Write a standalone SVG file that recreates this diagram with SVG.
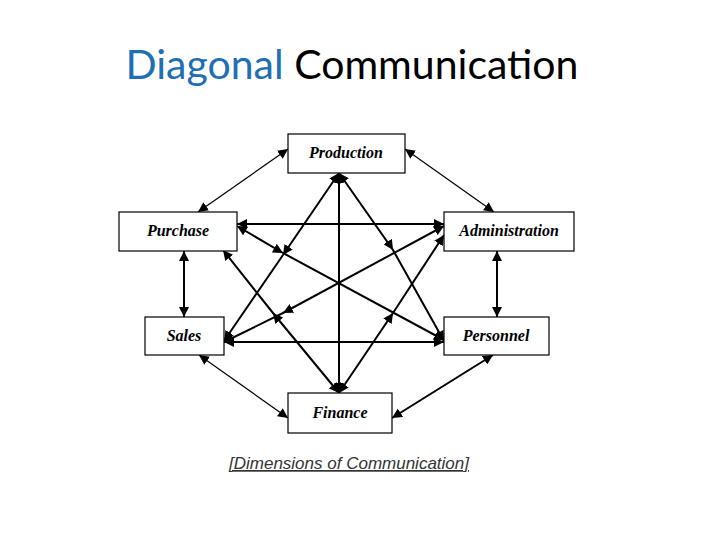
<svg xmlns="http://www.w3.org/2000/svg" width="720" height="540" viewBox="0 0 720 540">
<style>
.box{fill:#fff;stroke:#000;stroke-width:1.2}
.lbl{font-family:"Liberation Serif",serif;font-style:italic;font-weight:bold;font-size:16px;text-anchor:middle}
.c{stroke:#000;fill:none}
.thin{stroke-width:1.2}
.thick{stroke-width:2}
</style>
<defs>
<marker id="m" viewBox="0 0 10 10" refX="10" refY="5" markerWidth="10" markerHeight="10" orient="auto" markerUnits="userSpaceOnUse"><path d="M0,0L10,5L0,10z"/></marker>
<marker id="s" viewBox="0 0 10 10" refX="10" refY="5" markerWidth="10" markerHeight="10" orient="auto-start-reverse" markerUnits="userSpaceOnUse"><path d="M0,0L10,5L0,10z"/></marker>
</defs>
<text x="352" y="79" font-family="Lato,'Open Sans',sans-serif" font-size="41" text-anchor="middle"><tspan fill="#1F6FB5">Diagonal</tspan> Communication</text>
<g id="connectors">
<g marker-start="url(#s)" marker-end="url(#m)">
<line class="c thin" x1="288" y1="149" x2="198" y2="212"/>
<line class="c thin" x1="405" y1="149" x2="494" y2="212"/>
<line class="c thick" x1="184" y1="251" x2="184" y2="317"/>
<line class="c thick" x1="497" y1="251" x2="497" y2="317"/>
<line class="c thin" x1="199" y1="355" x2="288" y2="418"/>
<line class="c thick" x1="493" y1="355" x2="392" y2="418"/>
<line class="c thick" x1="237" y1="224" x2="444" y2="224"/>
<line class="c thick" x1="224" y1="342" x2="444" y2="342"/>
<line class="c thick" x1="339" y1="173" x2="339" y2="393"/>
<polyline class="c thick" points="339,173 283,255 224,341" marker-mid="url(#m)"/>
<polyline class="c thick" points="339,173 393,250 444,341" marker-mid="url(#m)"/>
<polyline class="c thick" points="339,393 273,313 223,250" marker-mid="url(#m)"/>
<polyline class="c thick" points="339,393 393,313 444,235" marker-mid="url(#m)"/>
<polyline class="c thick" points="237,226 283,253 444,340" marker-mid="url(#m)"/>
<polyline class="c thick" points="444,226 283,313 224,342" marker-mid="url(#m)"/>
</g>
</g>
<g id="production"><rect class="box" x="288" y="134" width="117" height="39"/><text class="lbl" x="346" y="158">Production</text></g>
<g id="purchase"><rect class="box" x="119" y="212" width="118" height="39"/><text class="lbl" x="178" y="236">Purchase</text></g>
<g id="administration"><rect class="box" x="444" y="212" width="130" height="39"/><text class="lbl" x="509" y="236">Administration</text></g>
<g id="sales"><rect class="box" x="145" y="317" width="79" height="38"/><text class="lbl" x="184" y="341">Sales</text></g>
<g id="personnel"><rect class="box" x="444" y="317" width="105" height="38"/><text class="lbl" x="496" y="341">Personnel</text></g>
<g id="finance"><rect class="box" x="288" y="393" width="104" height="40"/><text class="lbl" x="340" y="418">Finance</text></g>
<text x="349" y="469" font-family="'Liberation Sans',sans-serif" font-style="italic" font-size="17" fill="#333" text-anchor="middle" text-decoration="underline">[Dimensions of Communication]</text>
</svg>
